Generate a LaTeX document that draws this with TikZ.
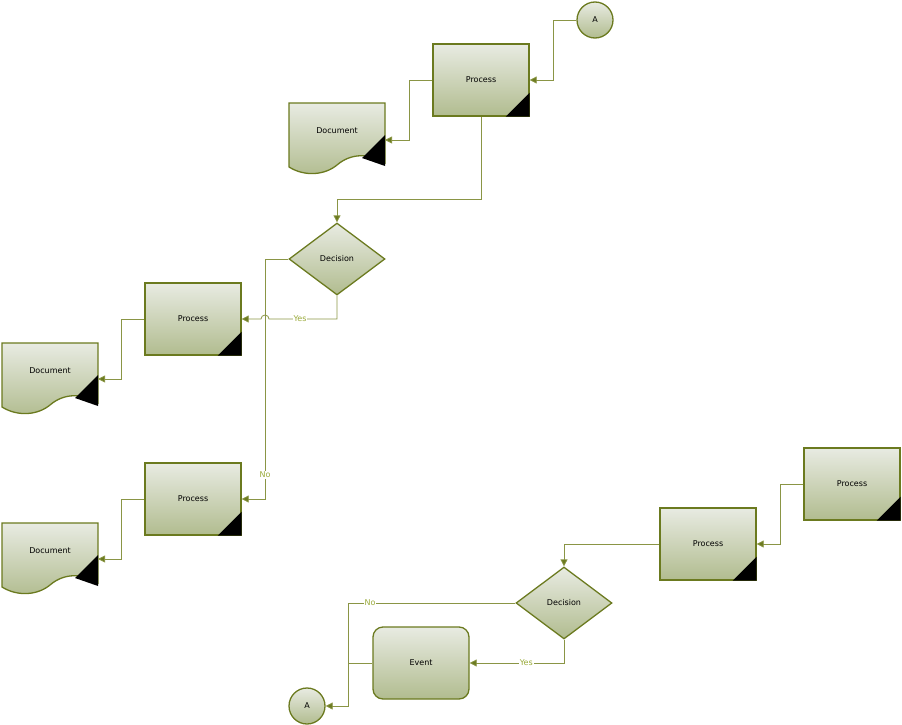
\documentclass[tikz,border=0pt]{standalone}
\usepackage{fontspec}
\setmainfont{DejaVu Sans}
\usetikzlibrary{shapes.geometric,arrows.meta}
\definecolor{olv}{HTML}{6B7A1F}
\definecolor{lnc}{HTML}{8A9545}
\definecolor{lbl}{HTML}{9AAA3A}
\definecolor{topc}{HTML}{E8EBE2}
\definecolor{botc}{HTML}{B1BC8F}
\tikzset{
  x=1pt,y=-1pt,
  grad/.style={draw=olv,line width=1.3pt,top color=topc,bottom color=botc},
  proc/.style={grad,minimum width=96pt,minimum height=72pt,font=\fontsize{8}{9}\selectfont},
  evt/.style={proc,rounded corners=10pt},
  dec/.style={grad,diamond,minimum width=96pt,minimum height=72pt,aspect=1.333,inner sep=0pt,font=\fontsize{8}{9}\selectfont},
  conn/.style={grad,circle,minimum size=36pt,inner sep=0pt,font=\fontsize{8}{9}\selectfont},
  docn/.style={minimum width=96pt,minimum height=72pt,font=\fontsize{8}{9}\selectfont},
  link/.style={draw=lnc,line width=0.8pt,-{Triangle[length=7pt,width=7pt,fill=olv]}},
  plain/.style={draw=lnc,line width=0.8pt},
  lab/.style={fill=white,inner sep=1pt,text=lbl,font=\fontsize{8}{9}\selectfont},
}
\newcommand{\corner}[1]{\fill (#1.south east) ++(-24,0) -- (#1.south east) -- ++(0,-24) -- cycle;}
\newcommand{\docshape}[2]{%
  \path[grad,shift={(#1,#2)}] (0,0)--(96,0)--(96,60) .. controls (80,50) and (62,50) .. (48,62) .. controls (36,72) and (16,74) .. (0,64) -- cycle;
  \fill[shift={(#1,#2)}] (73,55)--(96,32)--(96,63)--cycle;}
\begin{document}
\begin{tikzpicture}
\useasboundingbox (0,0) rectangle (902,725);
% documents
\docshape{289}{103}
\node[docn] (d1) at (337,131) {Document};
\docshape{2}{343}
\node[docn] (d2) at (50,371) {Document};
\docshape{2}{523}
\node[docn] (d3) at (50,551) {Document};
% nodes
\node[conn] (a1) at (595,20) {A};
\node[proc] (p1) at (481,80) {Process};
\node[dec] (q1) at (337,259) {Decision};
\node[proc] (p2) at (193,319) {Process};
\node[proc] (p3) at (193,499) {Process};
\node[proc] (p4) at (852,484) {Process};
\node[proc] (p5) at (708,544) {Process};
\node[dec] (q2) at (564,603) {Decision};
\node[evt] (e1) at (421,663) {Event};
\node[conn] (a2) at (307,706) {A};
\corner{p1}\corner{p2}\corner{p3}\corner{p4}\corner{p5}
% connectors
\draw[link] (a1.west) -- (553,20) |- (p1.east);
\draw[link] (p1.west) -- (409,80) |- (385,140);
\draw[link] (p1.south) |- (337,199) -- (q1.north);
\draw[link] (q1.west) -- (265,259) |- (p3.east) node[lab,pos=0.45] {No};
\draw[link] (q1.south) |- (269,319) arc (0:-180:4) -- (p2.east);
\node[lab] at (300,319) {Yes};
\draw[link] (p2.west) -- (121,319) |- (98,379);
\draw[link] (p3.west) -- (121,499) |- (98,559);
\draw[link] (p4.west) -- (780,484) |- (p5.east);
\draw[link] (p5.west) -| (q2.north);
\draw[link] (q2.south) |- (e1.east) node[lab,pos=0.7] {Yes};
\draw[link] (q2.west) -| (348,706) -- (a2.east);
\node[lab] at (370,603) {No};
\draw[plain] (e1.west) -- (348,663);
\end{tikzpicture}
\end{document}
